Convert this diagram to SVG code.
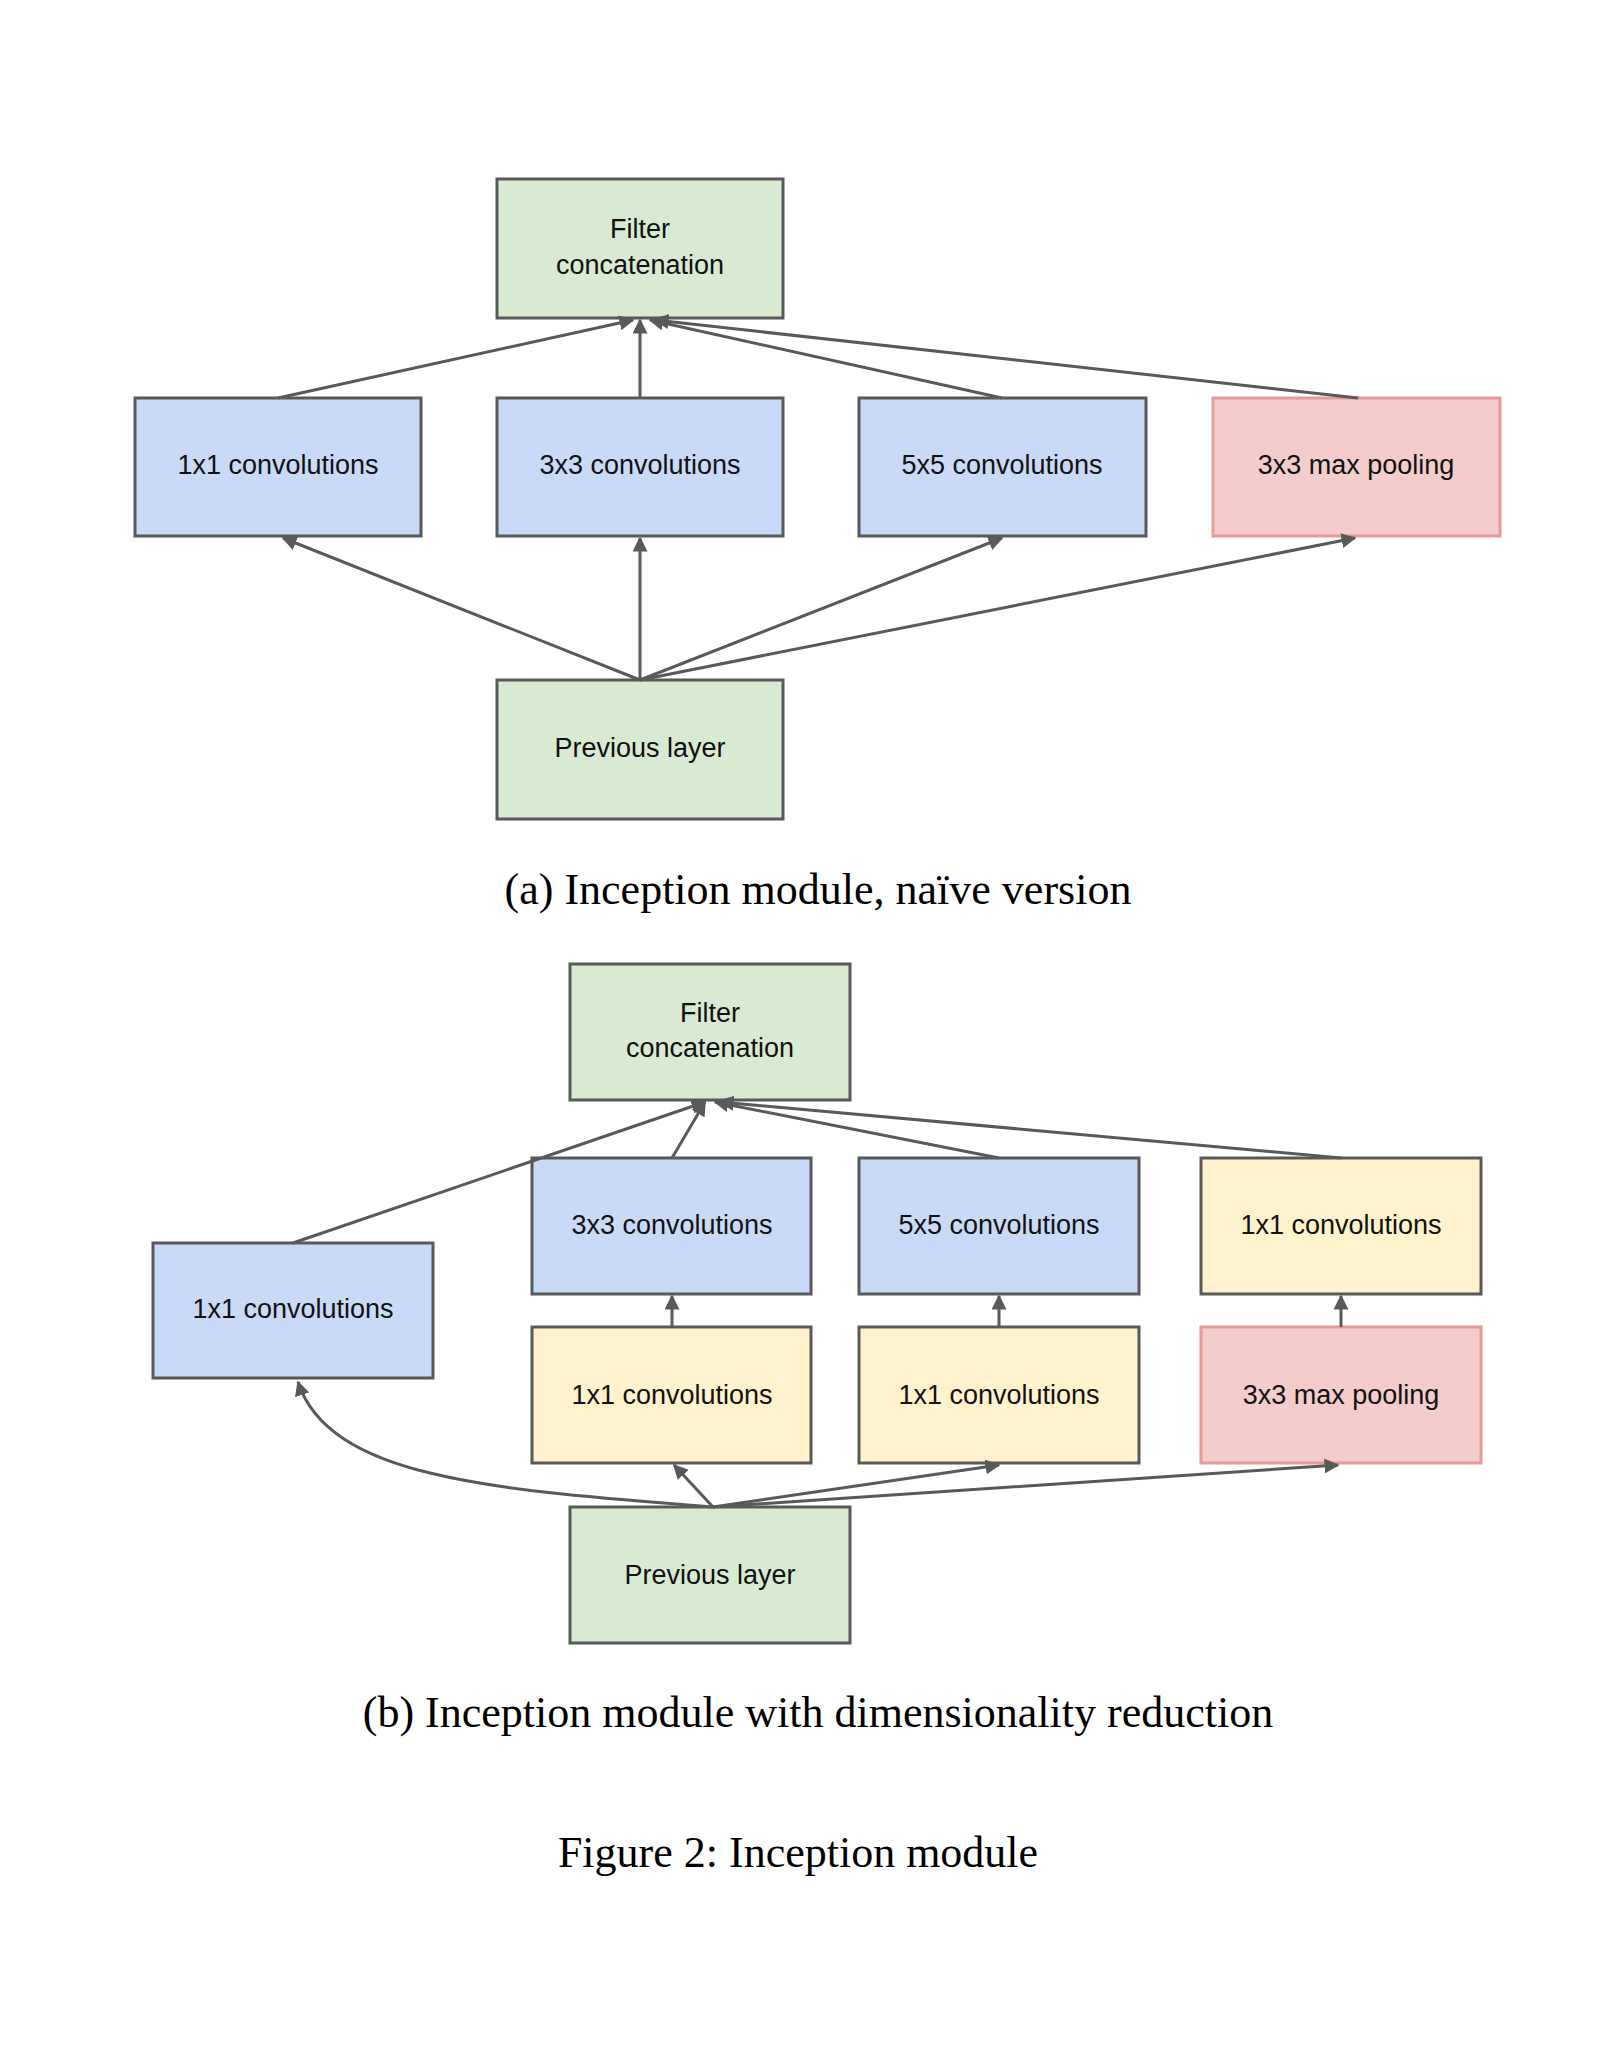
<svg xmlns="http://www.w3.org/2000/svg" width="1611" height="2048" viewBox="0 0 1611 2048">
<style>
rect{stroke-width:3}
.g{fill:#d9ead3;stroke:#595959}.b{fill:#c9daf8;stroke:#595959}.y{fill:#fff2cc;stroke:#595959}.r{fill:#f4cccc;stroke:#e79a9a}
.t{font-family:"Liberation Sans",Arial,sans-serif;font-size:27px;fill:#111;text-anchor:middle;dominant-baseline:middle}
.c{font-family:"Liberation Serif","Times New Roman",serif;font-size:44px;fill:#000;text-anchor:middle}
#edges path{fill:none;stroke:#595959;stroke-width:3;marker-end:url(#ah)}
</style>
<defs><marker id="ah" viewBox="0 0 10 10" refX="9" refY="5" markerWidth="5" markerHeight="5" orient="auto"><path d="M0,0L10,5L0,10z" fill="#595959"/></marker></defs>
<rect width="1611" height="2048" fill="#fff"/>
<g id="a_filter"><rect class="g" x="497" y="179" width="286" height="139"/><text class="t" x="640" y="231">Filter</text><text class="t" x="640" y="267">concatenation</text></g>
<g id="a_c1"><rect class="b" x="135" y="398" width="286" height="138"/><text class="t" x="278" y="467">1x1 convolutions</text></g>
<g id="a_c3"><rect class="b" x="497" y="398" width="286" height="138"/><text class="t" x="640" y="467">3x3 convolutions</text></g>
<g id="a_c5"><rect class="b" x="859" y="398" width="287" height="138"/><text class="t" x="1002" y="467">5x5 convolutions</text></g>
<g id="a_pool"><rect class="r" x="1213" y="398" width="287" height="138"/><text class="t" x="1356" y="467">3x3 max pooling</text></g>
<g id="a_prev"><rect class="g" x="497" y="680" width="286" height="139"/><text class="t" x="640" y="750">Previous layer</text></g>
<g id="b_filter"><rect class="g" x="570" y="964" width="280" height="136"/><text class="t" x="710" y="1015">Filter</text><text class="t" x="710" y="1050">concatenation</text></g>
<g id="b_left"><rect class="b" x="153" y="1243" width="280" height="135"/><text class="t" x="293" y="1311">1x1 convolutions</text></g>
<g id="b_c3"><rect class="b" x="532" y="1158" width="279" height="136"/><text class="t" x="672" y="1227">3x3 convolutions</text></g>
<g id="b_c5"><rect class="b" x="859" y="1158" width="280" height="136"/><text class="t" x="999" y="1227">5x5 convolutions</text></g>
<g id="b_c1p"><rect class="y" x="1201" y="1158" width="280" height="136"/><text class="t" x="1341" y="1227">1x1 convolutions</text></g>
<g id="b_r3"><rect class="y" x="532" y="1327" width="279" height="136"/><text class="t" x="672" y="1397">1x1 convolutions</text></g>
<g id="b_r5"><rect class="y" x="859" y="1327" width="280" height="136"/><text class="t" x="999" y="1397">1x1 convolutions</text></g>
<g id="b_pool"><rect class="r" x="1201" y="1327" width="280" height="136"/><text class="t" x="1341" y="1397">3x3 max pooling</text></g>
<g id="b_prev"><rect class="g" x="570" y="1507" width="280" height="136"/><text class="t" x="710" y="1577">Previous layer</text></g>
<g id="edges">
<path d="M278,398L633,320"/><path d="M640,398L640,320"/><path d="M1002,398L650,320"/><path d="M1358,398L655,320"/>
<path d="M640,680L283,538"/><path d="M640,680L640,538"/><path d="M640,680L1002,538"/><path d="M640,680L1355,538"/>
<path d="M293,1243L705,1102"/><path d="M672,1158L705,1102"/><path d="M999,1158L715,1102"/><path d="M1341,1158L720,1102"/>
<path d="M672,1327L672,1296"/><path d="M999,1327L999,1296"/><path d="M1341,1327L1341,1296"/>
<path d="M713,1507C500,1490 330,1480 298,1382"/><path d="M713,1507L674,1465"/><path d="M713,1507L999,1465"/><path d="M713,1507L1338,1465"/>
</g>
<text class="c" x="818" y="904">(a)  Inception module, naïve version</text>
<text class="c" x="818" y="1727">(b)  Inception module with dimensionality reduction</text>
<text class="c" x="798" y="1867">Figure 2: Inception module</text>
</svg>
